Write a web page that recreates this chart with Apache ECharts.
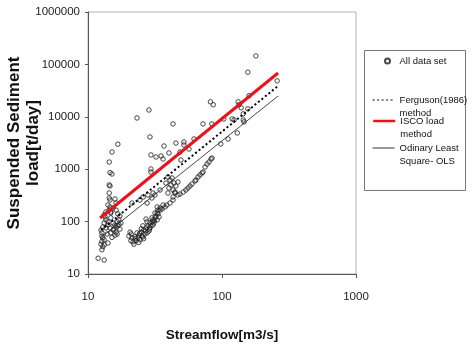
<!DOCTYPE html>
<html><head><meta charset="utf-8">
<script src="https://cdn.jsdelivr.net/npm/echarts@6/dist/echarts.min.js"></script>
<style>html,body{margin:0;padding:0;background:#fff}#c{width:474px;height:349px}</style>
</head><body><div id="c"></div>
<script>
// Streamflow [m3/s], Suspended sediment load [t/day]
const allDataSet = [
  [16.7,3000],[15.1,2130],[14.4,1370],[14.6,860],[15.1,810],[14.4,500],[14.6,478],[14.4,351],[14.4,282],[14.6,258],
  [15.9,270],[16.2,226],[14.1,207],[14.6,190],[14.4,166],[14.8,153],[14.8,146],
  [13.4,123],[13.6,108],[14.1,98],[14.8,118],[15.4,94],[15.9,86],[16.2,79],[14.6,76],[15.4,69],[16.2,63],[14.8,61],
  [15.9,55],[14.1,86],[13.6,76],[13.2,94],[12.9,79],
  [12.5,69],[12.7,61],[12.7,53],[12.9,49],[12.7,42],[12.5,37],[12.9,33],[12.7,29],[13.2,36],[13.2,45],[14.1,39],
  [11.9,20],[13.2,18.5],
  [13.6,153],[13.2,134],[15.4,182],[16.2,166],[16.7,140],[17.3,128],[17.0,108],[17.6,94],[16.7,83],[17.3,72],
  [15.1,50],[16.5,58],[13.9,58],[15.6,72],[17.0,88],[16.5,100],
  [21.3,226],[24.4,258],[25.8,295],[28,322],[30.6,351],
  [23.2,9500],[28.5,13500],[29,4120],[29.5,1870],[32.2,1710],[35.1,1785],[36.3,1565],[36.9,2770],[40.2,2040],
  [43.1,7320],[45.3,3160],[48.6,2130],[49.4,1500],[52,3300],[52,2900],[56.7,2430],[61.8,3770],[72.2,7320],
  [29.5,1010],[29.5,884],
  [39.5,710],[40.9,622],[42.4,680],[43.8,545],[41.6,499],[45.3,478],[40.2,438],[43.1,401],[44.6,367],[39.5,351],
  [46.9,570],[38.2,545],[34.5,401],[31.6,322],[30,282],[27.6,226],[36.3,207],[32.8,190],[43.1,295],[44.6,351],
  [32.8,146],[34.5,166],[37.6,190],[40.9,226],[43.1,258],[46.9,322],[51.4,367],[55.7,438],[59.7,522],[62.9,596],
  [66.2,710],[68.5,775],[72.2,884],[74.7,1100],[77.4,1256],[80,1372],[82.8,1565],[84.3,1635],[35.7,174],[38.8,207],
  [48.6,336],[53.8,401],[57.7,478],[63.9,622],[71,846],
  [20.6,63],[21.3,49],[21.7,41],[22.4,51],[23.2,61],[24.4,45],[25.7,51],[27.6,61],[29,76],[30.5,86],[32.8,108],
  [27.6,99],[30,118],[31.6,146],[33.3,166],[34.5,182],
  [20.2,53],[20.9,43],[22,37],[22.8,43],[23.6,49],[24,55],[24.9,63],[25.3,53],[26.1,69],[26.6,58],[27.1,76],[28,83],
  [28.5,66],[29,94],[29.5,83],[30.5,108],[31,94],[31.6,118],[32.2,128],[33.3,140],[33.9,123],[25.7,83],[27.1,112],
  [21,58],[22.6,47],[23.9,40],[26,47],[28.8,72],[30.2,99],[31.3,104],[25,73],[26.9,66],[24.3,59],
  [179,145000],[156,71000],[258,48500],[82,19300],[86,17000],[132,19300],[134,17000],[159,25200],[139,14850],
  [103,9100],[84,7320],[119,9100],[123,8700],[144,11400],[144,8700],[146,8000],[156,14200],[98,3030],[111,3770],[130,4920]
];
const fergusonFlow = [12.5, 262];
const fergusonLoad = [69, 38700];
const iscoFlow = [12.3, 262];
const iscoLoad = [117, 68500];
const olsFlow = [12.3, 262];
const olsLoad = [48, 24900];
const xTicks = [10, 100, 1000];
const yTicks = [10, 100, 1000, 10000, 100000, 1000000];
const seriesNames = ['All data set', 'Ferguson(1986)\nmethod', 'ISCO load\nmethod', 'Odinary Least\nSquare- OLS'];

const SANS = "'Liberation Sans',Arial,sans-serif";
const pairs = (xs, ys) => xs.map((x, i) => [x, ys[i]]);

const chart = echarts.init(document.getElementById('c'), null, {renderer: 'canvas'});
function legendFor(name, centerY, twoLine, lineWidth) {
  const lg = {
    data: [name], orient: 'vertical', left: twoLine ? 372 : 384, top: twoLine ? centerY - 19.5 : centerY - 6.5,
    padding: 0, itemGap: 0, itemWidth: twoLine ? 22 : 14, itemHeight: twoLine ? 4 : 5, selectedMode: false,
    textStyle: {fontFamily: SANS, fontSize: 9.5, color: '#111', lineHeight: 13},
    formatter: twoLine ? (n => '\n' + n) : (n => n)
  };
  if (lineWidth) {
    lg.lineStyle = {width: lineWidth};
    lg.itemStyle = {opacity: 0, color: 'rgba(0,0,0,0)', borderWidth: 0};
  }
  return lg;
}
chart.setOption({
  animation: false,
  backgroundColor: '#fff',
  grid: {left: 88, right: 118, top: 12, bottom: 75, containLabel: false, outerBoundsMode: 'none',
    show: true, borderColor: '#b4b4b4', borderWidth: 1, backgroundColor: 'transparent'},
  xAxis: {
    type: 'log', logBase: 10, min: xTicks[0], max: xTicks[xTicks.length - 1],
    axisLine: {lineStyle: {color: '#555'}}, axisTick: {length: 4, lineStyle: {color: '#555'}},
    splitLine: {show: false}, minorTick: {show: false},
    axisLabel: {margin: 17, color: '#222', fontFamily: SANS, fontSize: 11.5, formatter: v => String(Math.round(v))},
    name: 'Streamflow[m3/s]', nameLocation: 'middle', nameGap: 54, nameMoveOverlap: false,
    nameTextStyle: {fontWeight: 'bold', fontSize: 13.5, fontFamily: SANS, color: '#111'}
  },
  yAxis: {
    type: 'log', logBase: 10, min: yTicks[0], max: yTicks[yTicks.length - 1],
    axisLine: {show: true, lineStyle: {color: '#555'}}, axisTick: {show: true, length: 3, lineStyle: {color: '#555'}},
    splitLine: {show: false},
    axisLabel: {margin: 8, color: '#222', fontFamily: SANS, fontSize: 11.5, formatter: v => String(Math.round(v))},
    name: 'Suspended Sediment\nload[t/day]', nameLocation: 'middle', nameRotate: 90, nameGap: 45, nameMoveOverlap: false,
    nameTextStyle: {fontWeight: 'bold', fontSize: 17, lineHeight: 19, fontFamily: SANS, color: '#111'}
  },
  legend: [
    legendFor(seriesNames[0], 61, false),
    legendFor(seriesNames[1], 100, true, 1.2),
    legendFor(seriesNames[2], 121, true, 2.5),
    legendFor(seriesNames[3], 148, true, 1)
  ],
  graphic: [{type: 'rect', shape: {x: 364.5, y: 50.5, width: 101, height: 140}, style: {fill: 'none', stroke: '#777', lineWidth: 1}, z: -1, silent: true}],
  series: [
    {name: seriesNames[0], type: 'scatter', data: allDataSet, symbol: 'circle', symbolSize: 4.5,
      itemStyle: {color: 'rgba(0,0,0,0)', borderColor: '#1a1a1a', borderWidth: 1}},
    {name: seriesNames[1], type: 'line', data: pairs(fergusonFlow, fergusonLoad), symbol: 'none', showSymbol: false,
      lineStyle: {color: '#000', width: 2, type: [2, 2.5]}, itemStyle: {color: '#000'}, z: 3},
    {name: seriesNames[2], type: 'line', data: pairs(iscoFlow, iscoLoad), symbol: 'none', showSymbol: false,
      lineStyle: {color: '#e8141b', width: 3}, itemStyle: {color: '#e8141b'}, z: 4},
    {name: seriesNames[3], type: 'line', data: pairs(olsFlow, olsLoad), symbol: 'none', showSymbol: false,
      lineStyle: {color: '#333', width: 0.9}, itemStyle: {color: '#333'}, z: 3}
  ]
});
</script></body></html>
